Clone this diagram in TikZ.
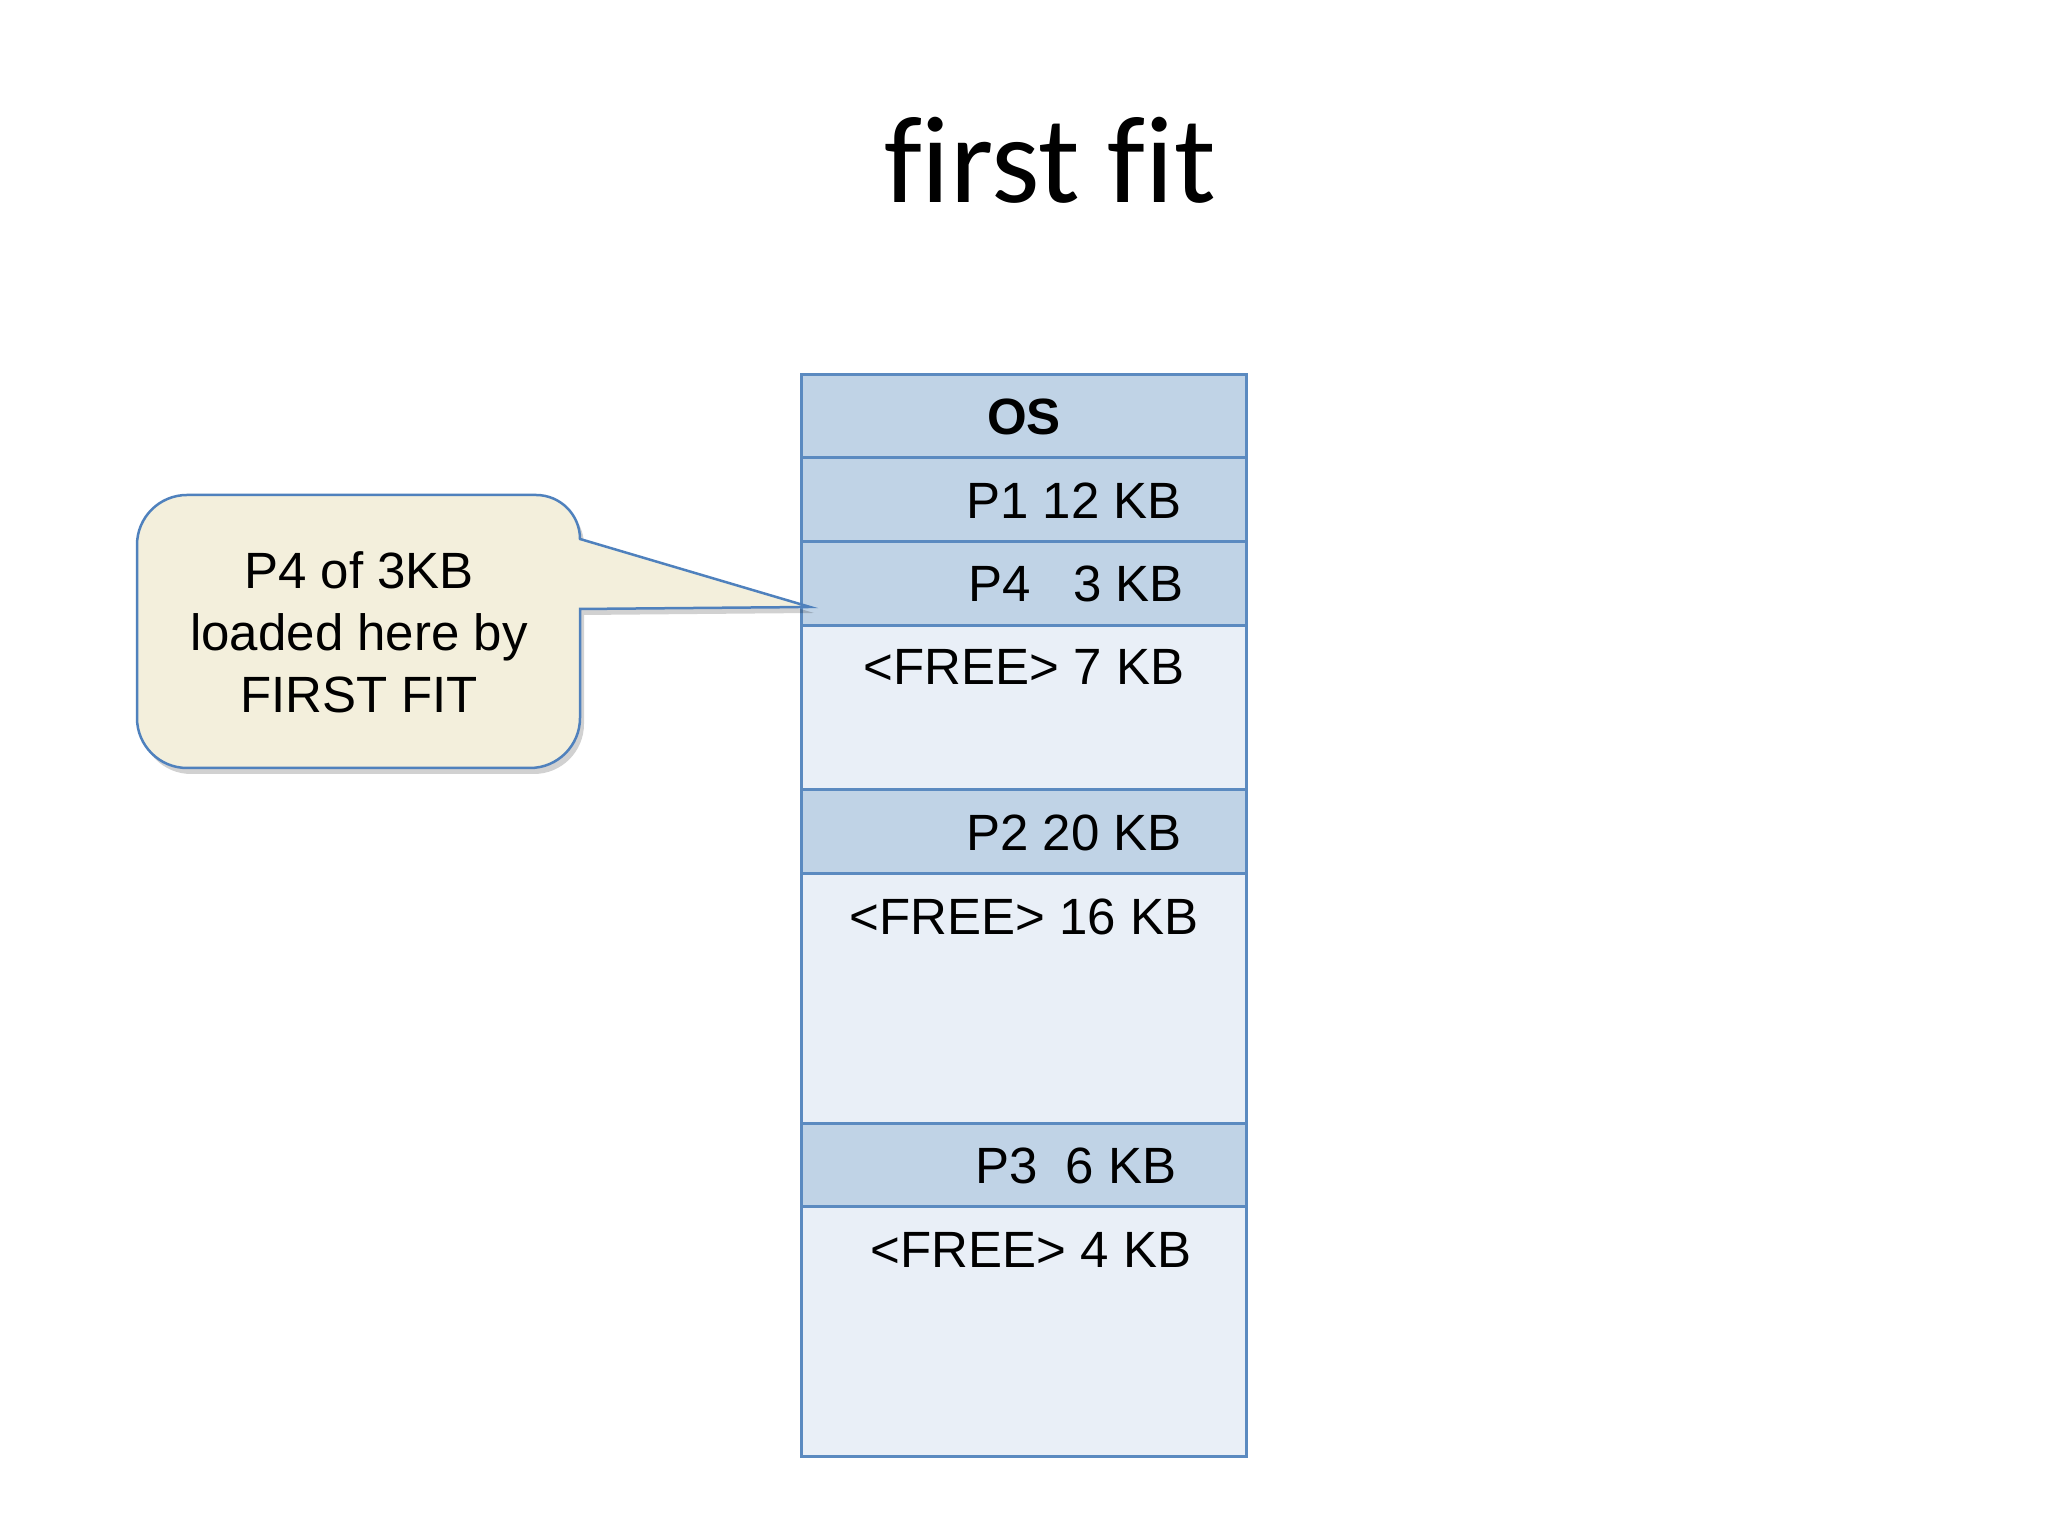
\documentclass[tikz,border=0pt]{standalone}
\usepackage{fontspec}
\setmainfont{Liberation Sans}
\newfontfamily\titlefont[Ligatures=NoCommon]{Carlito}
\usetikzlibrary{shadows}
\definecolor{procfill}{HTML}{C0D3E6}
\definecolor{freefill}{HTML}{E9EFF7}
\definecolor{memline}{HTML}{5B8AC0}
\definecolor{notefill}{HTML}{F3EFDC}
\definecolor{noteline}{HTML}{4F81BD}
\tikzset{
  memrow/.style={draw=memline, line width=3pt, minimum width=445pt, inner sep=0pt, outer sep=0pt, anchor=north west},
  proc/.style={memrow, fill=procfill},
  freerow/.style={memrow, fill=freefill},
  lbl/.style={inner sep=0pt, font=\fontsize{51}{62}\selectfont},
}
\begin{document}
\begin{tikzpicture}[x=1pt,y=1pt]
\useasboundingbox (0,0) rectangle (2048,1536);
\fill[white] (0,0) rectangle (2048,1536);
\node[font=\titlefont\fontsize{124}{150}\selectfont, anchor=base, inner sep=0pt] (title) at (1050,1333) {first fit};
% memory column
\node[proc, minimum height=83pt] (os) at (801,1161) {};
\node[proc, minimum height=84pt] (p1) at (801,1078) {};
\node[proc, minimum height=84pt] (p4) at (801,994) {};
\node[freerow, minimum height=164pt] (free1) at (801,910) {};
\node[proc, minimum height=84pt] (p2) at (801,746) {};
\node[freerow, minimum height=250pt] (free2) at (801,662) {};
\node[proc, minimum height=83pt] (p3) at (801,412) {};
\node[freerow, minimum height=250pt] (free3) at (801,329) {};
% labels
\node[lbl, anchor=base] (oslbl) at (1024,1101) {\bfseries OS};
\node[lbl, anchor=base west] (p1lbl) at (966,1017) {P1 12 KB};
\node[lbl, anchor=base west] (p4lbl) at (968,934) {P4~~~3 KB};
\node[lbl, anchor=base] (free1lbl) at (1024,851) {<FREE> 7 KB};
\node[lbl, anchor=base west] (p2lbl) at (966,685) {P2 20 KB};
\node[lbl, anchor=base] (free2lbl) at (1024,601) {<FREE> 16 KB};
\node[lbl, anchor=base west] (p3lbl) at (975,352) {P3~~6 KB};
\node[lbl, anchor=base] (free3lbl) at (1031,268) {<FREE> 4 KB};
% callout
\coordinate (tip) at (810,929);
\draw[noteline, fill=notefill, line width=2.5pt,
      drop shadow={shadow xshift=4pt, shadow yshift=-6pt, fill=black, opacity=0.18}]
  (187,1041) -- (536,1041) arc[start angle=90,end angle=0,radius=44]
  -- (tip) -- (580,927) -- (580,818) arc[start angle=0,end angle=-90,radius=50]
  -- (187,768) arc[start angle=270,end angle=180,radius=50]
  -- (137,991) arc[start angle=180,end angle=90,radius=50] -- cycle;
\node[lbl, align=center, anchor=center] (note) at (359,904) {P4 of 3KB\\loaded here by\\FIRST FIT};
\end{tikzpicture}
\end{document}
